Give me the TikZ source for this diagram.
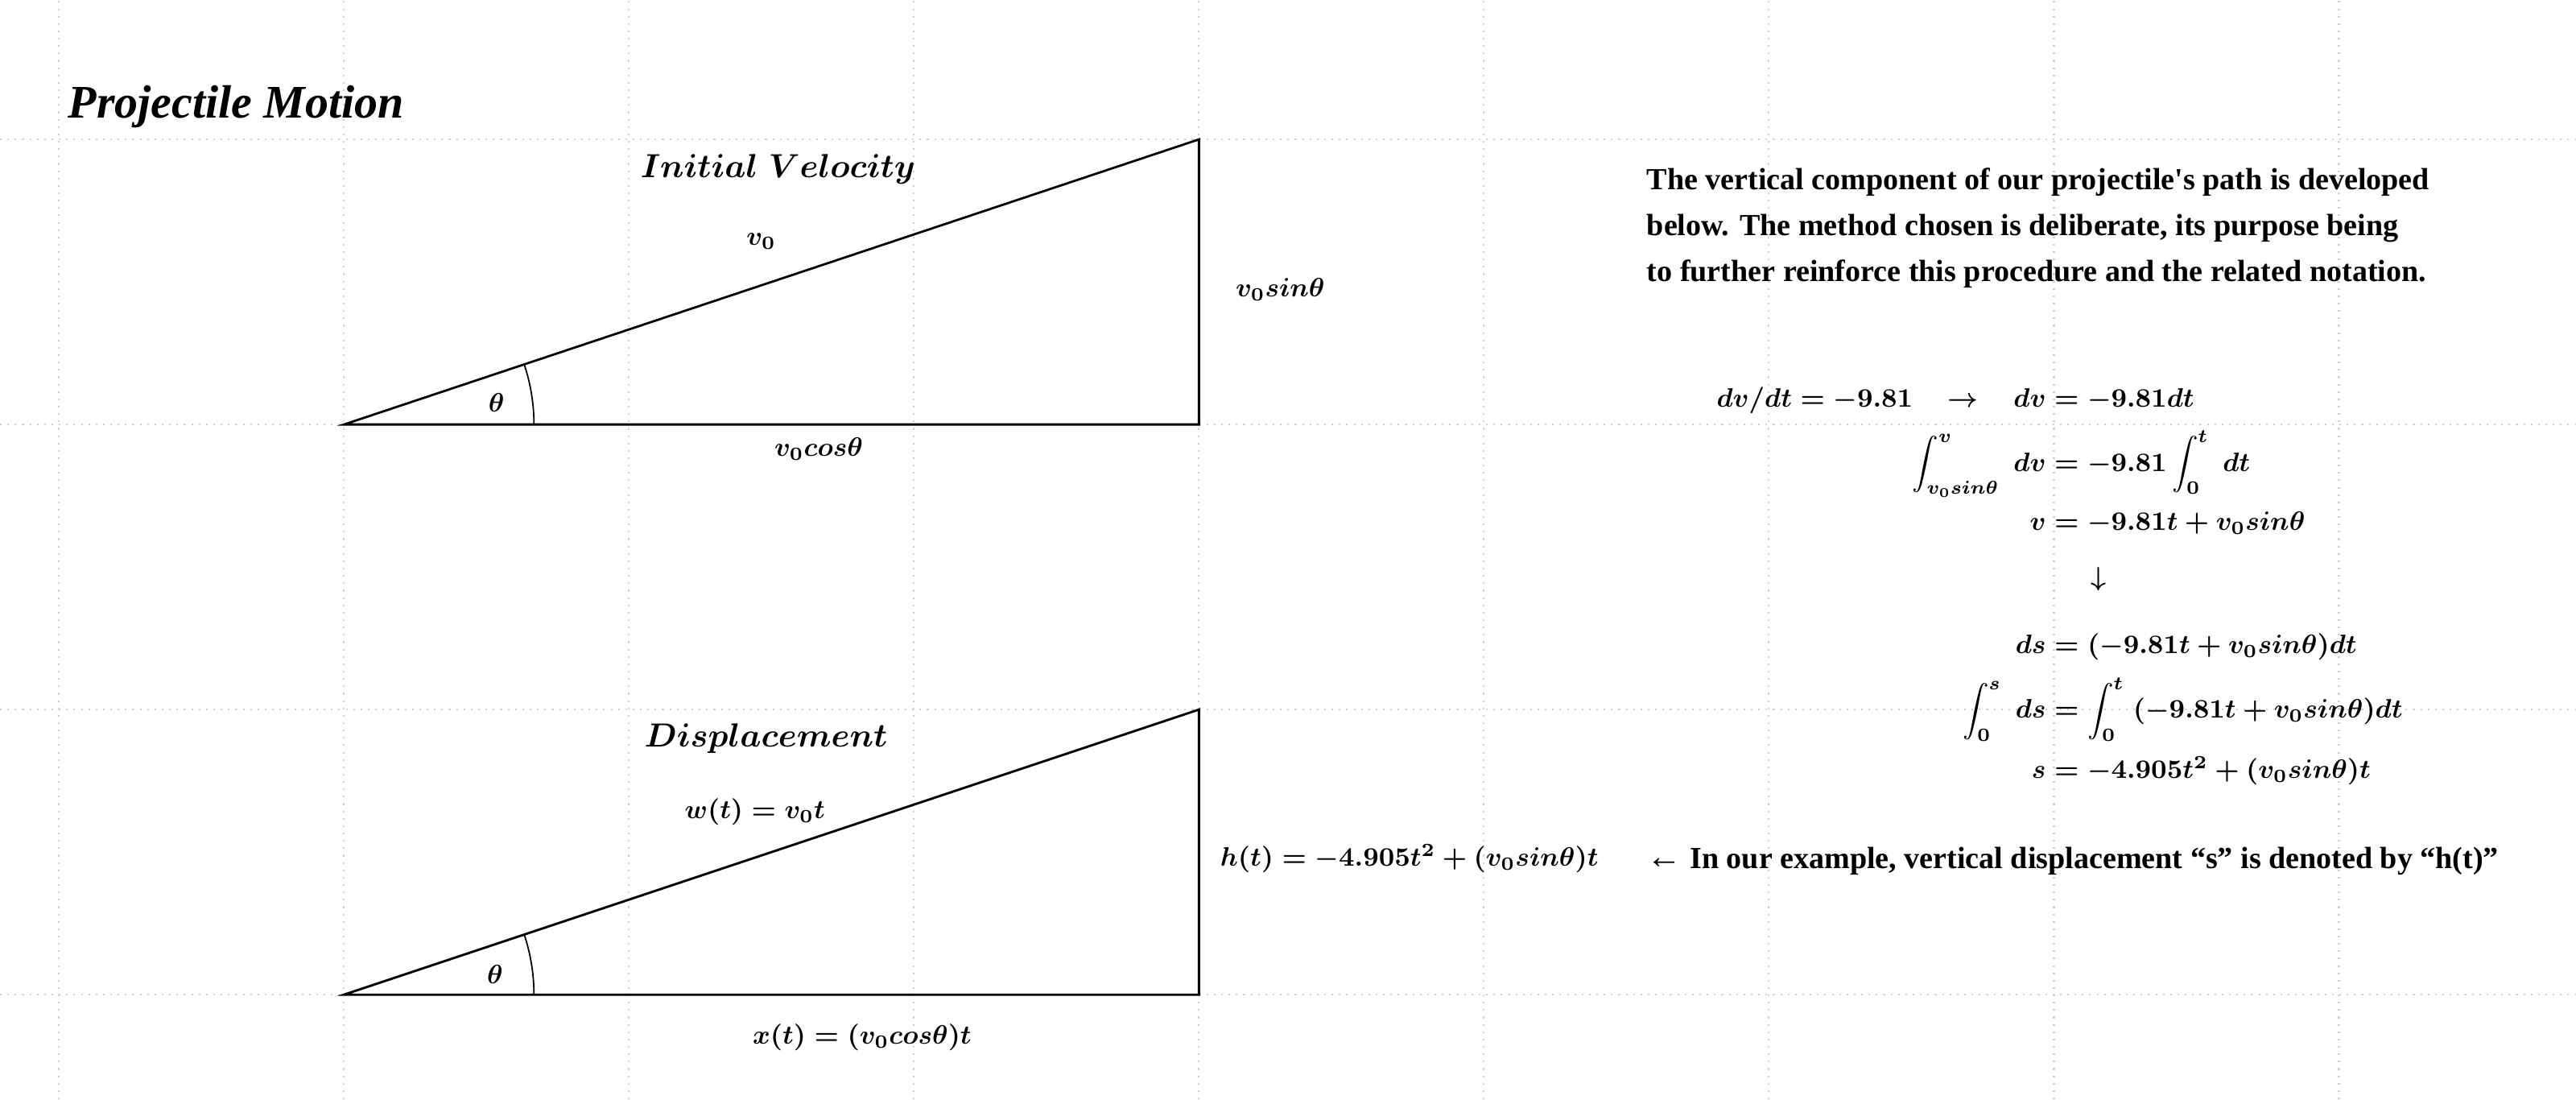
\RequirePackage{fix-cm}
\documentclass[tikz,border=0pt]{standalone}
\usepackage{fontspec}
\usepackage{amsmath}
\newfontfamily\timesfont{Liberation Serif}[Ligatures=TeXOff]
\begin{document}
\boldmath
\begin{tikzpicture}[x=3.54cm,y=3.54cm]

    \tikzset{
      gridline/.style={
        color=black!18,
        line width=0.6pt,
        dash pattern=on 0.6pt off 2pt,
        step=3.54cm,
      },
      side/.style={
        thick,
        line join=miter,
      },
      mathlabel/.style={
        font=\fontsize{9.4}{11.3}\selectfont\boldmath,
        inner sep=0pt,
      },
      heading/.style={
        font=\fontsize{11.8}{14}\selectfont\boldmath,
        inner sep=0pt,
        anchor=base,
      },
      prose/.style={
        font=\fontsize{10.83}{16}\selectfont\timesfont\bfseries,
        inner sep=0pt,
        anchor=base west,
      },
      eqrow/.style={
        mathlabel,
        anchor=base west,
      },
    }
    \useasboundingbox (-0.207,-0.367) rectangle (8.832,3.489);
    \draw[gridline] (-0.207,-0.367) grid (8.832,3.489);

    \node[font=\fontsize{16.5}{20}\selectfont\timesfont\bfseries\itshape, anchor=base west, inner sep=0pt] (mainTitle) at (0.030,3.074) {Projectile Motion};

	\coordinate (velA) at (1,2);
	\coordinate (velB) at (4,2);
	\coordinate (velC) at (4,3);
	\draw[side] (velA) -- (velB) -- (velC) -- cycle;
	\draw[line width=0.5pt] (velA) ++(2/3,0) arc[start angle=0, end angle=18.435, radius=2/3];
	\node[heading] (velTitle) at (2.523,2.867) {$Initial\ Velocity$};
	\node[mathlabel, anchor=base] (velHyp) at (2.464,2.630) {$v_0$};
	\node[mathlabel, anchor=base west] (velUp) at (4.127,2.449) {$v_0sin\theta$};
	\node[mathlabel, anchor=base] (velBase) at (2.666,1.890) {$v_0cos\theta$};
	\node[mathlabel, anchor=base] (velAngle) at (1.535,2.044) {$\theta$};

	\coordinate (dispA) at (1,0);
	\coordinate (dispB) at (4,0);
	\coordinate (dispC) at (4,1);
	\draw[side] (dispA) -- (dispB) -- (dispC) -- cycle;
	\draw[line width=0.5pt] (dispA) ++(2/3,0) arc[start angle=0, end angle=18.435, radius=2/3];
	\node[heading] (dispTitle) at (2.481,0.868) {$Displacement$};
	\node[mathlabel, anchor=base] (dispHyp) at (2.442,0.618) {$w(t) = v_0t$};
	\node[mathlabel, anchor=base west] (dispUp) at (4.073,0.452) {$h(t) = -4.905t^2 + (v_0sin\theta)t$};
	\node[mathlabel, anchor=base] (dispBase) at (2.818,-0.172) {$x(t) = (v_0cos\theta)t$};
	\node[mathlabel, anchor=base] (dispAngle) at (1.530,0.038) {$\theta$};

	\node[prose] (paraA) at (5.570,2.823) {The vertical component of our projectile's path is developed};
	\node[prose] (paraB) at (5.570,2.663) {below. The method chosen is deliberate, its purpose being};
	\node[prose] (paraC) at (5.570,2.503) {to further reinforce this procedure and the related notation.};

	\node[eqrow] (eqA) at (6.97,2.060) {$\llap{$dv/dt = -9.81 \quad\rightarrow\quad dv$}= -9.81dt$};
	\node[eqrow] (eqB) at (6.97,1.836) {$\displaystyle\llap{$\displaystyle\int_{v_0sin\theta}^{v}\ dv$}= -9.81\int_0^t\ dt$};
	\node[eqrow] (eqC) at (6.97,1.630) {$\llap{$v$}= -9.81t + v_0sin\theta$};
	\node[mathlabel] (eqArrow) at (7.157,1.458) {$\downarrow$};
	\node[eqrow] (eqD) at (6.97,1.196) {$\llap{$ds$}= (-9.81t + v_0sin\theta)dt$};
	\node[eqrow] (eqE) at (6.97,0.970) {$\displaystyle\llap{$\displaystyle\int_0^s\ ds$}= \int_0^t\ (-9.81t + v_0sin\theta)dt$};
	\node[eqrow] (eqF) at (6.97,0.758) {$\llap{$s$}= -4.905t^2 + (v_0sin\theta)t$};

	\node[prose] (noteLine) at (5.570,0.4435) {{\fontsize{12.5}{16}\selectfont ←} In our example, vertical displacement “s” is denoted by “h(t)”};

\end{tikzpicture}
\end{document}
